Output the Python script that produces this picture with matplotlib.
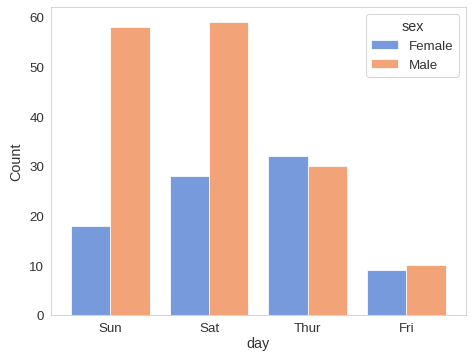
import numpy as np
import matplotlib
matplotlib.use("Agg")
import matplotlib.pyplot as plt
import seaborn as sns

sns.set_style("white")
plt.rcParams.update({"font.family": ["Liberation Sans", "DejaVu Sans"],
                     "xtick.labelsize": 13, "ytick.labelsize": 13,
                     "axes.labelsize": 14, "legend.fontsize": 13,
                     "legend.title_fontsize": 14,
                     "text.color": "#333333", "axes.labelcolor": "#333333",
                     "xtick.color": "#333333", "ytick.color": "#333333"})

# Counts per day and sex
days = ["Sun", "Sat", "Thur", "Fri"]
female = [18, 28, 32, 9]
male = [58, 59, 30, 10]

pal = sns.color_palette("muted")
fig = plt.figure(figsize=(6.4, 4.93), dpi=74)
ax = fig.add_axes([0.108, 0.134, 0.875, 0.844])

x = np.arange(len(days))
w = 0.4
ax.bar(x - w / 2, female, width=w, color=pal[0], alpha=0.75, edgecolor="white", linewidth=1, label="Female")
ax.bar(x + w / 2, male, width=w, color=pal[1], alpha=0.75, edgecolor="white", linewidth=1, label="Male")

ax.set_xticks(x)
ax.set_xticklabels(days)
ax.set_xlim(-0.6, 3.6)
ax.set_ylim(0, 61.95)
ax.set_xlabel("day", labelpad=2)
ax.set_ylabel("Count", labelpad=6)
for s in ax.spines.values():
    s.set_color("#cccccc")

ax.legend(title="sex", loc="upper right")

fig.savefig("out.png", dpi=74)
